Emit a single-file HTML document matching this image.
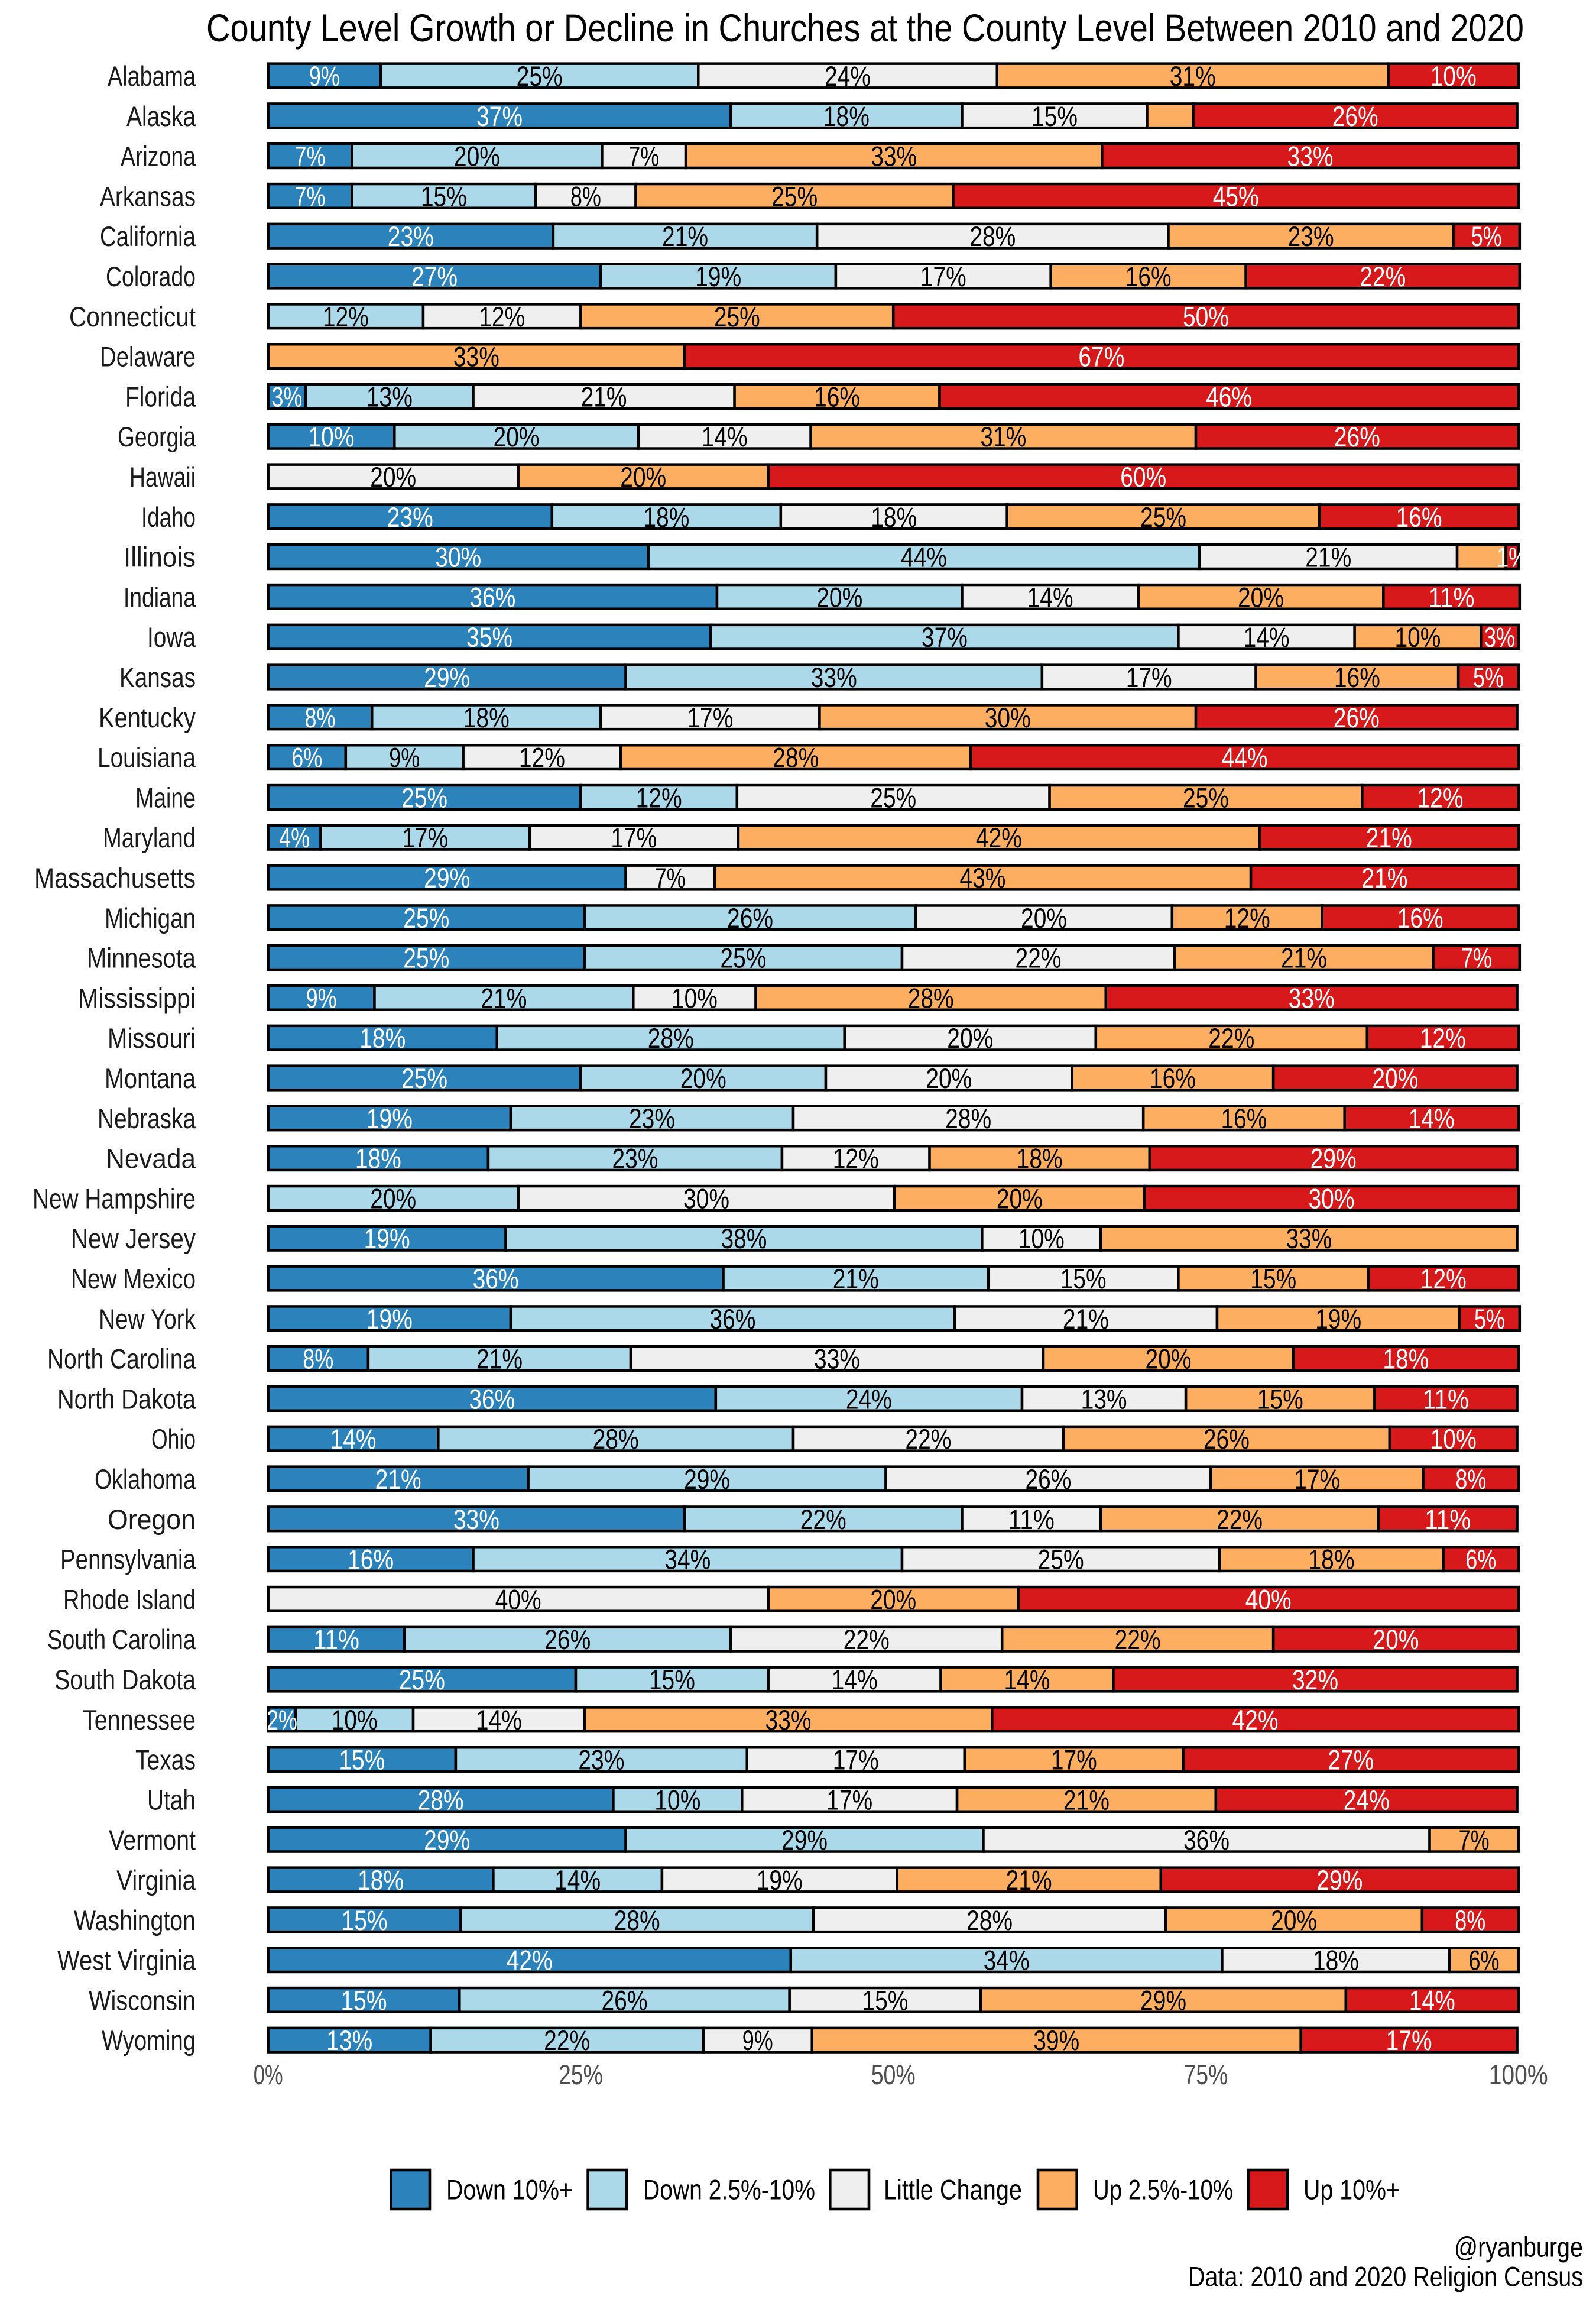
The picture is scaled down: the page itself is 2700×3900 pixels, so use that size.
<!DOCTYPE html>
<html lang="en">
<head>
<meta charset="utf-8">
<title>County Level Growth or Decline in Churches</title>
<style>
html,body{margin:0;padding:0;background:#fff;}
svg{display:block;}
text{font-family:"Liberation Sans",sans-serif;font-size:47px;}
</style>
</head>
<body>
<svg id="chart" xmlns="http://www.w3.org/2000/svg" width="2700" height="3900" viewBox="0 0 2700 3900">
  <defs><clipPath id="panel-clip"><rect x="451" y="0" width="2121" height="3900"/></clipPath></defs>
  <rect x="0" y="0" width="2700" height="3900" fill="#ffffff"/>
  <text x="349" y="70" style="font-size:66px" fill="#000" textLength="2229" lengthAdjust="spacingAndGlyphs">County Level Growth or Decline in Churches at the County Level Between 2010 and 2020</text>
  <g id="y-labels"></g>
  <g id="bars"></g>
  <g id="values" clip-path="url(#panel-clip)"></g>
  <g id="x-ticks"></g>
  <g>
    <g>
      <rect x="661.3" y="3670" width="65.7" height="66" fill="#2c82ba" stroke="#000" stroke-width="4.6"/>
      <text x="755" y="3719.5" fill="#000" textLength="214" lengthAdjust="spacingAndGlyphs">Down 10%+</text>
    </g>
    <g>
      <rect x="994.6" y="3670" width="65.7" height="66" fill="#abd9e9" stroke="#000" stroke-width="4.6"/>
      <text x="1088" y="3719.5" fill="#000" textLength="291" lengthAdjust="spacingAndGlyphs">Down 2.5%-10%</text>
    </g>
    <g>
      <rect x="1404.3" y="3670" width="65.7" height="66" fill="#efefef" stroke="#000" stroke-width="4.6"/>
      <text x="1495" y="3719.5" fill="#000" textLength="234" lengthAdjust="spacingAndGlyphs">Little Change</text>
    </g>
    <g>
      <rect x="1756" y="3670" width="65.7" height="66" fill="#fdae61" stroke="#000" stroke-width="4.6"/>
      <text x="1849" y="3719.5" fill="#000" textLength="237" lengthAdjust="spacingAndGlyphs">Up 2.5%-10%</text>
    </g>
    <g>
      <rect x="2112" y="3670" width="65.7" height="66" fill="#d7191c" stroke="#000" stroke-width="4.6"/>
      <text x="2205" y="3719.5" fill="#000" textLength="163" lengthAdjust="spacingAndGlyphs">Up 10%+</text>
    </g>
  </g>
  <text x="2678" y="3816.7" text-anchor="end" fill="#000" textLength="218" lengthAdjust="spacingAndGlyphs">@ryanburge</text>
  <text x="2678" y="3866.7" text-anchor="end" fill="#000" textLength="668" lengthAdjust="spacingAndGlyphs">Data: 2010 and 2020 Religion Census</text>
</svg>
<script>
const states = ["Alabama","Alaska","Arizona","Arkansas","California","Colorado","Connecticut","Delaware","Florida","Georgia","Hawaii","Idaho","Illinois","Indiana","Iowa","Kansas","Kentucky","Louisiana","Maine","Maryland","Massachusetts","Michigan","Minnesota","Mississippi","Missouri","Montana","Nebraska","Nevada","New Hampshire","New Jersey","New Mexico","New York","North Carolina","North Dakota","Ohio","Oklahoma","Oregon","Pennsylvania","Rhode Island","South Carolina","South Dakota","Tennessee","Texas","Utah","Vermont","Virginia","Washington","West Virginia","Wisconsin","Wyoming"];
const down10 = [9.0,37.0,6.7,6.7,22.8,26.6,0,0,3.0,10.1,0,22.7,30.4,35.9,35.4,28.6,8.3,6.2,25.0,4.2,28.6,25.3,25.3,8.5,18.3,25.0,19.4,17.6,0,19.0,36.4,19.4,8.0,35.8,13.6,20.8,33.3,16.4,0,10.9,24.6,2.2,15.0,27.6,28.6,18.0,15.4,41.8,15.3,13.0];
const down25 = [25.4,18.5,20.0,14.7,21.1,18.8,12.4,0,13.4,19.5,0,18.3,44.1,19.6,37.4,33.3,18.3,9.4,12.5,16.7,0,26.5,25.4,20.7,27.8,19.6,22.6,23.5,20.0,38.1,21.2,35.5,21.0,24.5,28.4,28.6,22.2,34.3,0,26.1,15.4,9.4,23.3,10.3,28.6,13.5,28.2,34.5,26.4,21.8];
const little = [23.9,14.8,6.7,8.0,28.1,17.2,12.6,0,20.9,13.8,20.0,18.1,20.6,14.1,14.1,17.1,17.5,12.6,25.0,16.7,7.1,20.5,21.8,9.8,20.1,19.7,28.0,11.8,30.1,9.5,15.2,21.0,33.0,13.1,21.6,26.0,11.1,25.4,40.0,21.7,13.8,13.7,17.4,17.2,35.7,18.8,28.2,18.2,15.3,8.7];
const up25 = [31.3,3.7,33.3,25.4,22.8,15.6,25.0,33.3,16.4,30.8,20.0,25.0,3.9,19.6,10.1,16.2,30.1,28.0,25.0,41.7,42.9,12.0,20.7,28.0,21.7,16.1,16.1,17.6,20.0,33.3,15.2,19.4,20.0,15.1,26.1,17.0,22.2,17.9,20.0,21.7,13.8,32.6,17.5,20.7,7.1,21.1,20.5,5.5,29.2,39.1];
const up10 = [10.4,25.9,33.3,45.2,5.3,21.9,50.0,66.7,46.3,25.8,60.0,15.9,1.0,10.9,3.0,4.8,25.7,43.8,12.5,20.7,21.4,15.7,6.9,32.9,12.1,19.5,13.9,29.4,29.9,0,12.0,4.8,18.0,11.4,10.2,7.6,11.1,6.0,40.0,19.6,32.3,42.1,26.8,24.1,0,28.6,7.7,0,13.8,17.3];
const pctDown10 = [9,37,7,7,23,27,0,0,3,10,0,23,30,36,35,29,8,6,25,4,29,25,25,9,18,25,19,18,0,19,36,19,8,36,14,21,33,16,0,11,25,2,15,28,29,18,15,42,15,13];
const pctDown25 = [25,18,20,15,21,19,12,0,13,20,0,18,44,20,37,33,18,9,12,17,0,26,25,21,28,20,23,23,20,38,21,36,21,24,28,29,22,34,0,26,15,10,23,10,29,14,28,34,26,22];
const pctLittle = [24,15,7,8,28,17,12,0,21,14,20,18,21,14,14,17,17,12,25,17,7,20,22,10,20,20,28,12,30,10,15,21,33,13,22,26,11,25,40,22,14,14,17,17,36,19,28,18,15,9];
const pctUp25 = [31,0,33,25,23,16,25,33,16,31,20,25,0,20,10,16,30,28,25,42,43,12,21,28,22,16,16,18,20,33,15,19,20,15,26,17,22,18,20,22,14,33,17,21,7,21,20,6,29,39];
const pctUp10 = [10,26,33,45,5,22,50,67,46,26,60,16,1,11,3,5,26,44,12,21,21,16,7,33,12,20,14,29,30,0,12,5,18,11,10,8,11,6,40,20,32,42,27,24,0,29,8,0,14,17];
const tickValues = [0,25,50,75,100];
const seriesNames = ["down-10-plus","down-2-5-10","little-change","up-2-5-10","up-10-plus"];
const seriesValues = [down10,down25,little,up25,up10];
const seriesLabels = [pctDown10,pctDown25,pctLittle,pctUp25,pctUp10];
const seriesFill = ["#2c82ba","#abd9e9","#efefef","#fdae61","#d7191c"];
const seriesText = ["#ffffff","#000000","#000000","#000000","#ffffff"];

const NS = "http://www.w3.org/2000/svg";
function xScale(v){ return 453.7 + v * 21.15; }
function yScale(i){ return 128 + i * 67.8; }
const BAR_H = 40.7;
function slug(s){ return s.toLowerCase().replace(/\s+/g,'-'); }
/* rendered text widths that mimic the condensed face of the original */
const labelFit = {"Alabama":149,"Alaska":117,"Arizona":127,"Arkansas":162,"California":162,"Colorado":152,"Connecticut":214,"Delaware":162,"Florida":119,"Georgia":132,"Hawaii":112,"Idaho":92,"Illinois":122,"Indiana":122,"Iowa":82,"Kansas":129,"Kentucky":164,"Louisiana":166,"Maine":102,"Maryland":157,"Massachusetts":273,"Michigan":154,"Minnesota":184,"Mississippi":199,"Missouri":149,"Montana":154,"Nebraska":166,"Nevada":152,"New Hampshire":276,"New Jersey":211,"New Mexico":211,"New York":164,"North Carolina":251,"North Dakota":234,"Ohio":75,"Oklahoma":171,"Oregon":149,"Pennsylvania":229,"Rhode Island":224,"South Carolina":251,"South Dakota":239,"Tennessee":191,"Texas":102,"Utah":82,"Vermont":147,"Virginia":134,"Washington":206,"West Virginia":234,"Wisconsin":181,"Wyoming":159};

const yG = document.getElementById('y-labels');
const barG = document.getElementById('bars');
const valG = document.getElementById('values');
const tickG = document.getElementById('x-ticks');

states.forEach(function(name,i){
  const cy = yScale(i);
  const lab = document.createElementNS(NS,'text');
  
  
  lab.setAttribute('x', 331);
  lab.setAttribute('y', cy + 17);
  lab.setAttribute('text-anchor', 'end');
  lab.setAttribute('fill', '#1a1a1a');
  lab.setAttribute('textLength', labelFit[name]);
  lab.setAttribute('lengthAdjust', 'spacingAndGlyphs');
  lab.textContent = name;
  yG.appendChild(lab);

  let cum = 0;
  seriesValues.forEach(function(vals,s){
    const v = vals[i];
    if (v > 0) {
      const r = document.createElementNS(NS,'rect');
      
      
      r.setAttribute('x', xScale(cum));
      r.setAttribute('y', cy - BAR_H / 2);
      r.setAttribute('width', xScale(cum + v) - xScale(cum));
      r.setAttribute('height', BAR_H);
      r.setAttribute('fill', seriesFill[s]);
      r.setAttribute('stroke', '#000');
      r.setAttribute('stroke-width', '4.5');
      barG.appendChild(r);

      const p = seriesLabels[s][i];
      if (p > 0) {
        const str = p + '%';
        const t = document.createElementNS(NS,'text');
        
        
        t.setAttribute('x', xScale(cum + v / 2));
        t.setAttribute('y', cy + 17);
        t.setAttribute('text-anchor', 'middle');
        t.setAttribute('fill', seriesText[s]);
        t.setAttribute('textLength', str.length * 26);
        t.setAttribute('lengthAdjust', 'spacingAndGlyphs');
        t.textContent = str;
        valG.appendChild(t);
      }
    }
    cum += v;
  });
});

tickValues.forEach(function(v){
  const str = v + '%';
  const t = document.createElementNS(NS,'text');
  
  
  t.setAttribute('x', xScale(v));
  t.setAttribute('y', 3525);
  t.setAttribute('text-anchor', 'middle');
  t.setAttribute('fill', '#4d4d4d');
  t.setAttribute('textLength', str.length * 25);
  t.setAttribute('lengthAdjust', 'spacingAndGlyphs');
  t.textContent = str;
  tickG.appendChild(t);
});
</script>
</body>
</html>
